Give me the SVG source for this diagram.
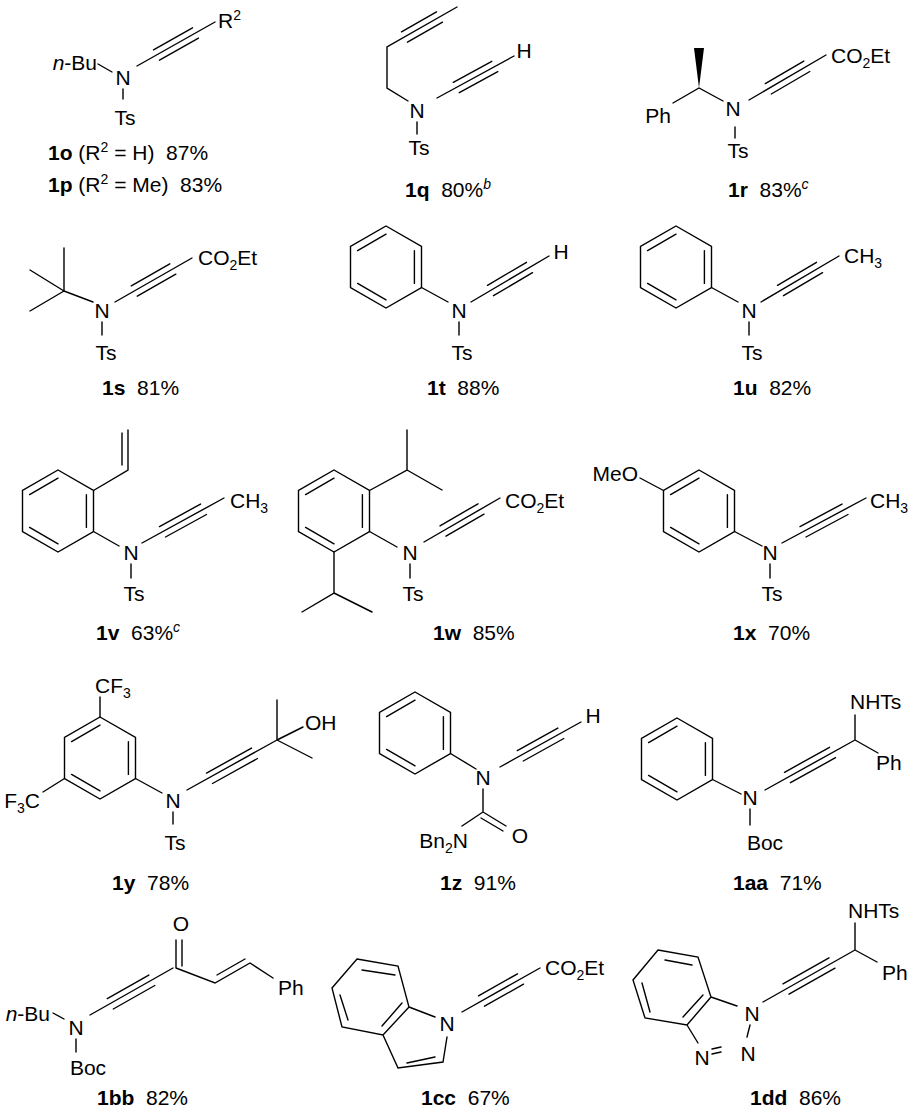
<svg xmlns="http://www.w3.org/2000/svg" xmlns:xlink="http://www.w3.org/1999/xlink" width="912" height="1110" viewBox="0 0 912 1110">
<style>
.b{stroke:#000;stroke-width:1.4;fill:none;stroke-linecap:round}
text{font-family:"Liberation Sans",Arial,sans-serif;font-size:21px;fill:#000}
.m{text-anchor:middle}
.e{text-anchor:end}
.bd{font-weight:bold}
.sub{font-size:14px}
</style>
<defs>
<g id="ph">
<path class="b" d="M0,-41 L35.5,-20.5 L35.5,20.5 L0,41 L-35.5,20.5 L-35.5,-20.5 Z M0,-32.8 L-28.4,-16.4 M28.4,-16.4 L28.4,16.4 M0,32.8 L-28.4,16.4"/>
</g>
</defs>
<rect width="912" height="1110" fill="#fff"/>
<g id="n1o">
<path class="b" d="M98,64 L112,72 M123,89 L123,99 M137,66 L215,22 M159.5,60.2 L198.5,38.2 M153.5,49.8 L192.5,27.8"/>
<text class="e" x="97" y="70"><tspan font-style="italic">n</tspan>-Bu</text>
<text class="m" x="123" y="85">N</text>
<text class="m" x="125" y="125">Ts</text>
<text x="218" y="28">R<tspan class="sub" dy="-8">2</tspan></text>
<text x="48" y="160" xml:space="preserve"><tspan class="bd">1o</tspan> (R<tspan class="sub" dy="-8">2</tspan><tspan dy="8"> = H)  87%</tspan></text>
<text x="48" y="192" xml:space="preserve"><tspan class="bd">1p</tspan> (R<tspan class="sub" dy="-8">2</tspan><tspan dy="8"> = Me)  83%</tspan></text>
</g>
<g id="n1q">
<path class="b" d="M457,7 L387,47 L387,88 L408,101 M407.5,42.2 L442.5,22.2 M401.5,31.8 L436.5,11.8 M417,122 L417,134 M437,98 L514,56 M459.3,92.7 L497.8,71.7 M453.3,82.3 L491.8,61.3"/>
<text class="m" x="417" y="118">N</text>
<text class="m" x="419" y="155">Ts</text>
<text class="m" x="524" y="58">H</text>
<text x="405" y="197" xml:space="preserve"><tspan class="bd">1q</tspan>  80%<tspan class="sub" font-style="italic" dy="-8">b</tspan></text>
</g>
<g id="n1r">
<path class="b" d="M673,103 L699,88 L723,101 M735,127 L735,138 M749,100 L826,55 M771.3,94 L809.8,71.5 M765.3,83.6 L803.8,61.1"/>
<polygon points="699,88 694,48 704,48" fill="#000"/>
<text class="m" x="658" y="123">Ph</text>
<text class="m" x="733" y="116">N</text>
<text class="m" x="738" y="158">Ts</text>
<text x="831" y="63">CO<tspan class="sub" dy="5">2</tspan><tspan dy="-5">Et</tspan></text>
<text x="728" y="197" xml:space="preserve"><tspan class="bd">1r</tspan>  83%<tspan class="sub" font-style="italic" dy="-8">c</tspan></text>
</g>
<g id="n1s">
<path class="b" d="M64,291 L64,248 M64,291 L30,270 M64,291 L30,311 M64,291 L93,302 M102,322 L102,335 M115,302 L192,258 M137.3,296.2 L175.8,274.2 M131.3,285.8 L169.8,263.8"/>
<text class="m" x="102" y="318">N</text>
<text class="m" x="106" y="360">Ts</text>
<text x="198" y="265">CO<tspan class="sub" dy="5">2</tspan><tspan dy="-5">Et</tspan></text>
<text x="102" y="395" xml:space="preserve"><tspan class="bd">1s</tspan>  81%</text>
</g>
<g id="n1t">
<use xlink:href="#ph" x="386" y="267"/>
<path class="b" d="M421.5,287.5 L448,302 M459,322 L459,335 M471,302 L549,256 M493.5,295.7 L532.5,272.7 M487.5,285.3 L526.5,262.3"/>
<text class="m" x="459" y="318">N</text>
<text class="m" x="462" y="360">Ts</text>
<text class="m" x="561" y="259">H</text>
<text x="427" y="395" xml:space="preserve"><tspan class="bd">1t</tspan>  88%</text>
</g>
<g id="n1u">
<use xlink:href="#ph" x="676" y="267"/>
<path class="b" d="M711.5,287.5 L738,302 M749,322 L749,335 M761,302 L839,256 M783.5,295.7 L822.5,272.7 M777.5,285.3 L816.5,262.3"/>
<text class="m" x="749" y="318">N</text>
<text class="m" x="752" y="360">Ts</text>
<text x="844" y="263">CH<tspan class="sub" dy="5">3</tspan></text>
<text x="733" y="395" xml:space="preserve"><tspan class="bd">1u</tspan>  82%</text>
</g>
<g id="n1v">
<use xlink:href="#ph" x="58" y="511"/>
<path class="b" d="M93.5,490.5 L128,470 L128,430 M122,465 L122,433 M93.5,531.5 L119,546 M131,564 L131,578 M142,543 L224,498 M165.5,537 L206.5,514.5 M159.5,526.6 L200.5,504.1"/>
<text class="m" x="131" y="560">N</text>
<text class="m" x="134" y="601">Ts</text>
<text x="230" y="508">CH<tspan class="sub" dy="5">3</tspan></text>
<text x="96" y="640" xml:space="preserve"><tspan class="bd">1v</tspan>  63%<tspan class="sub" font-style="italic" dy="-8">c</tspan></text>
</g>
<g id="n1w">
<use xlink:href="#ph" x="334" y="511"/>
<path class="b" d="M369.5,490.5 L407,470 L407,430 M407,470 L442,490 M334,552 L334,593 L302,612 M334,593 L372,612 M369.5,531.5 L397,547 M410,564 L410,578 M424,542 L500,498 M446,536.2 L484,514.2 M440,525.8 L478,503.8"/>
<text class="m" x="410" y="560">N</text>
<text class="m" x="413" y="601">Ts</text>
<text x="505" y="508">CO<tspan class="sub" dy="5">2</tspan><tspan dy="-5">Et</tspan></text>
<text x="433" y="640" xml:space="preserve"><tspan class="bd">1w</tspan>  85%</text>
</g>
<g id="n1x">
<use xlink:href="#ph" x="699" y="511"/>
<path class="b" d="M640,478 L663.5,490.5 M734.5,531.5 L762,546 M770,564 L770,578 M782,543 L866,498 M806,537 L848,514.5 M800,526.6 L842,504.1"/>
<text class="e" x="638" y="481">MeO</text>
<text class="m" x="770" y="560">N</text>
<text class="m" x="772" y="601">Ts</text>
<text x="870" y="508">CH<tspan class="sub" dy="5">3</tspan></text>
<text x="733" y="640" xml:space="preserve"><tspan class="bd">1x</tspan>  70%</text>
</g>
<g id="n1y">
<use xlink:href="#ph" x="100" y="758"/>
<path class="b" d="M100,717 L100,697 M64.5,778.5 L43,792 M135.5,778.5 L162,793 M173,812 L173,824 M187,790 L277,740 M277,740 L277,700 M277,740 L303,727 M277,740 L312,758 M212.5,783.5 L257.5,758.5 M206.5,773.1 L251.5,748.1"/>
<text x="95" y="693">CF<tspan class="sub" dy="5">3</tspan></text>
<text class="e" x="40" y="808">F<tspan class="sub" dy="5">3</tspan><tspan dy="-5">C</tspan></text>
<text class="m" x="173" y="808">N</text>
<text class="m" x="175" y="850">Ts</text>
<text x="305" y="730">OH</text>
<text x="112" y="890" xml:space="preserve"><tspan class="bd">1y</tspan>  78%</text>
</g>
<g id="n1z">
<use xlink:href="#ph" x="415" y="733"/>
<path class="b" d="M450.5,753.5 L476,769 M500,767 L581,722 M523.3,761 L563.8,738.5 M517.3,750.6 L557.8,728.1 M483,789 L483,812 L462,826 M483,812 L506,826 M481,818 L503,831"/>
<text class="m" x="483" y="785">N</text>
<text class="m" x="593" y="723">H</text>
<text class="e" x="468" y="848">Bn<tspan class="sub" dy="5">2</tspan><tspan dy="-5">N</tspan></text>
<text class="m" x="520" y="843">O</text>
<text x="440" y="890" xml:space="preserve"><tspan class="bd">1z</tspan>  91%</text>
</g>
<g id="n1aa">
<use xlink:href="#ph" x="677" y="759"/>
<path class="b" d="M712.5,779.5 L741,794 M750,809 L750,825 M765,790 L855,740 M790.5,782.7 L835.5,757.7 M784.5,772.3 L829.5,747.3 M855,740 L855,715 M855,740 L878,753"/>
<text class="m" x="750" y="805">N</text>
<text class="m" x="765" y="850">Boc</text>
<text x="850" y="709">NHTs</text>
<text x="876" y="770">Ph</text>
<text x="733" y="890" xml:space="preserve"><tspan class="bd">1aa</tspan>  71%</text>
</g>
<g id="n1bb">
<path class="b" d="M53,1013 L64,1019 M76,1039 L76,1052 M90,1015 L173,968 M113.3,1009 L154.8,985.5 M107.3,998.6 L148.8,975.1 M176,968 L176,940 M182,966 L182,940 M176,968 L215,983 L250,963 L273,978 M217,975 L245,959"/>
<text class="e" x="50" y="1021"><tspan font-style="italic">n</tspan>-Bu</text>
<text class="m" x="76" y="1035">N</text>
<text class="m" x="88" y="1075">Boc</text>
<text class="m" x="181" y="931">O</text>
<text x="278" y="995">Ph</text>
<text x="97" y="1105" xml:space="preserve"><tspan class="bd">1bb</tspan>  82%</text>
</g>
<g id="n1cc">
<path class="b" d="M357,959 L398,966 L409,1007 L383,1035 L342,1027 L332,988 Z M362,970 L395,975 M340,995 L348,1020 M382,1026 L402,1003 M409,1007 L435,1017 M447,1037 L443,1062 L398,1068 L383,1035 M407,1063 L435,1057 M462,1012 L540,968 M484.5,1006.2 L523.5,984.2 M478.5,995.8 L517.5,973.8"/>
<text class="m" x="447" y="1031">N</text>
<text x="545" y="975">CO<tspan class="sub" dy="5">2</tspan><tspan dy="-5">Et</tspan></text>
<text x="421" y="1105" xml:space="preserve"><tspan class="bd">1cc</tspan>  67%</text>
</g>
<g id="n1dd">
<path class="b" d="M658,950 L698,957 L711,997 L687,1025 L645,1018 L633,980 Z M665,960 L692,965 M642,983 L650,1012 M683,1017 L703,995 M711,997 L737,1006 M750,1025 L747,1037 M687,1025 L698,1043 M712,1049 L721,1047 M712,1054 L721,1052 M763,1002 L855,950 M789,994.2 L835,968.2 M783,983.8 L829,957.8 M855,950 L855,923 M855,950 L877,962"/>
<text class="m" x="752" y="1021">N</text>
<text class="m" x="748" y="1061">N</text>
<text class="m" x="702" y="1065">N</text>
<text x="848" y="918">NHTs</text>
<text x="882" y="980">Ph</text>
<text x="750" y="1105" xml:space="preserve"><tspan class="bd">1dd</tspan>  86%</text>
</g>
<g id="connectors"/>
</svg>
